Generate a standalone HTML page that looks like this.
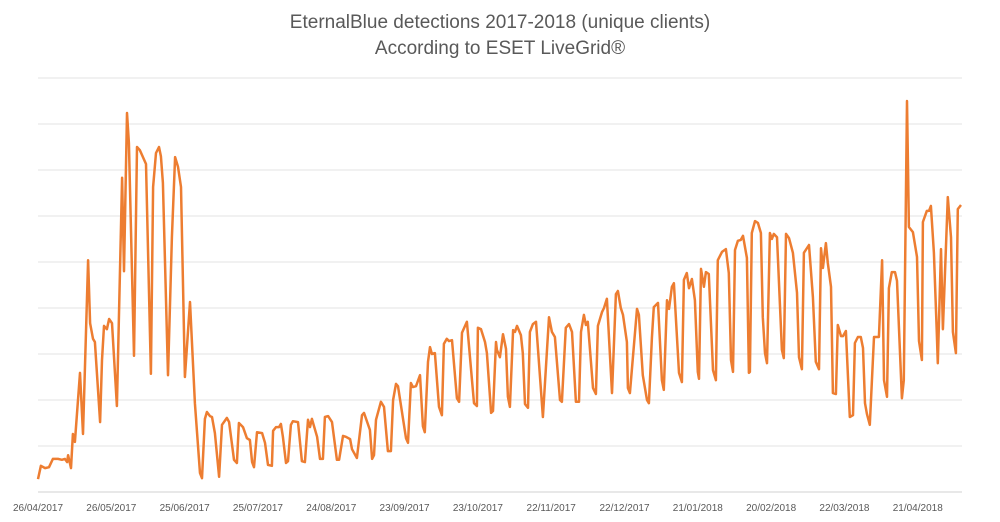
<!DOCTYPE html>
<html><head><meta charset="utf-8"><style>
html,body{margin:0;padding:0;background:#fff;}
svg{display:block;font-family:"Liberation Sans",sans-serif;}
</style></head><body>
<svg id="chart" width="1000" height="522" viewBox="0 0 1000 522">
<text x="500" y="28" text-anchor="middle" font-size="19" fill="#595959">EternalBlue detections 2017-2018 (unique clients)</text>
<text x="500" y="54" text-anchor="middle" font-size="19" fill="#595959">According to ESET LiveGrid®</text>
<g id="grid"></g>
<g id="xticks"></g>
<g id="series"></g>
</svg>
<script>
const tickLabels=["26/04/2017","26/05/2017","25/06/2017","25/07/2017","24/08/2017","23/09/2017","23/10/2017","22/11/2017","22/12/2017","21/01/2018","20/02/2018","22/03/2018","21/04/2018"];
const tickDays=[0,30,60,90,120,150,180,210,240,270,300,330,360];
const gridValues=[0,10,20,30,40,50,60,70,80,90];
const days=[0,1.2,2.9,4.5,6.1,8.2,9.8,11,11.9,12.3,13.5,14.3,15.1,17.2,18.4,20.5,21.3,22.5,23.3,25.4,26.2,27,28.2,29.1,30.3,32.3,34.4,35.2,36.4,37.2,39.3,40.5,41.7,44.2,46.2,47.1,48.3,49.5,50.3,51.1,53.2,54.8,56.1,57.3,58.5,60.1,62.2,64.2,66.3,67.1,68.3,69.1,70.4,71.2,72.4,74.1,75.3,77.3,78.2,80.2,81.4,82.2,83.9,85.5,86.7,87.6,88.4,89.6,91.7,92.9,94.1,95.7,96.2,97.4,98.6,99.4,100.2,101.5,102.3,103.5,104.3,106.4,108,109.2,110.5,111.3,112.1,114.2,115.4,116.6,117.4,118.7,120.3,122.3,123.2,124.8,126,127.7,128.5,130.5,132.6,133.4,135.8,136.7,137.5,138.3,140.3,141.6,143.2,144.4,145.3,146.5,147.3,150.6,151.4,152.6,153.4,154.7,156.3,157.5,158.3,159.6,160.4,161.2,162.4,164.1,165.3,166.1,167.3,168.2,169.4,171.4,172.3,173.5,175.5,178.4,179.6,180,181.3,182.9,183.7,185.4,186.2,187.4,187.8,189,190.3,191.5,192.3,193.1,194.4,195.2,196,197.6,198.4,199.3,200.5,201.3,202.5,203.8,206.6,209.1,210.3,211.5,213.6,214.4,216,217.3,218.5,220.1,221.4,222.2,223.4,224.2,225,227.1,228.3,229.1,230.8,231.6,232.8,234.9,236.5,237.3,238.5,239.4,241,241.4,242.2,245.1,245.9,247.5,249.2,250,251.2,252,253.7,255.3,256.1,257.4,258.2,259.4,260.2,262.3,263.5,264.3,265.5,266.4,267.6,268.8,270,270.5,271.3,272.5,273.3,274.5,276.2,277.4,278.2,279.9,281.5,282.7,283.6,284.4,285.2,286.4,287.6,288.5,290.1,290.9,291.3,292.1,293.4,294.6,295.8,296.6,297.5,298.3,299.5,300.3,301.1,302.4,304.4,305.2,306.1,307.3,308.9,310.6,311.4,312.6,313.4,315.5,317.1,318.3,319.6,320.4,321.2,322.4,323.2,324.5,325.3,326.5,327.3,328.6,329.4,330.6,332.2,333.5,334.3,335.5,336.7,337.6,338.4,339.2,340.4,342.1,344.1,345.4,346.2,347.4,348.2,349.4,350.7,351.5,353.5,354.3,355.6,356.4,358,359.7,360.5,361.7,362.1,363.7,364.6,365.4,366.6,367.8,368.2,369.5,370.3,372.3,373.6,374.4,375.6,376.4,377.7];
const detections=[2.8,5.7,5.2,5.4,7.2,7.2,7,7.2,6.5,8,5.2,12.6,10.9,25.9,12.6,50.4,36.7,33.3,32.6,15.2,28.7,36.1,35.4,37.6,36.7,18.7,68.3,48,82.4,75.9,29.6,75,74.3,71.3,25.7,66.3,73.7,75,73,67.2,25.4,55.4,72.8,70.7,66.3,25,41.3,19.3,4.1,3,15.9,17.4,16.5,16.3,12.8,3.3,14.6,16.1,15.2,7,6.3,15,14.1,11.7,11.3,6.5,5.4,13,12.8,10.7,5.9,5.7,13.3,14.1,14.1,14.8,12,6.3,6.7,14.6,15.4,15.2,6.7,6.5,15.7,14.1,15.9,12,7.2,7.2,16.3,16.5,15.2,7,7,12.2,12,11.5,9.3,7.4,16.7,17.2,13.5,7.2,8,15.7,19.6,18.5,8.9,8.9,20,23.5,23,11.7,10.7,23.7,22.8,23,25.4,14.3,13,28.3,31.5,30,30.2,18.5,16.7,32.2,33.3,32.8,33,20.4,19.6,34.6,37,19.3,18.7,35.7,35.4,32.6,30.2,17.2,17.6,32.6,30.9,29.3,34.3,31.1,20.7,18.5,35.2,34.8,36.1,34.1,30.2,19.1,18.3,34.8,36.5,37,16.3,38,34.8,33.7,20,19.6,35.7,36.5,34.8,19.6,19.6,34.8,38.5,36.3,37,22.6,21.3,36.1,39.1,40,42,21.5,43,43.7,40,38.5,32.6,22.6,21.5,39.8,38.5,25.4,20,19.3,33.5,40.2,41.1,24.3,22.2,41.7,39.8,44.6,45.4,25.9,23.9,46.1,47.6,44.3,46.3,41.7,26.1,24.6,48.5,44.6,47.8,47.4,26.5,24.3,50.4,52.2,52.8,47.6,28.7,26.1,52.6,54.6,54.8,55.7,50.9,25.9,26.1,56.3,58.9,58.5,56.3,38,30.2,28,56.3,55,56.1,55.4,30.9,29.1,56.1,55.2,52,43.3,29.3,26.7,52,53.7,42.4,28.3,26.7,53,48.7,54.1,49.8,44.6,21.5,21.3,36.3,33.9,33.9,35,16.3,16.7,32.4,33.7,33.7,31.3,19.3,17,14.6,33.7,33.7,50.4,24.3,20.7,44.3,47.8,47.8,45.9,20.4,24.3,85,57.6,56.5,51.1,32.8,28.7,58.7,61.1,61.1,62.2,52,34.6,28,52.8,35.4,64.1,55.4,34.8,30.2,61.5,62.4];

const NS="http://www.w3.org/2000/svg";
const X0=38,X1=961,D0=0,D1=377.7,Y0=492,Y1=78,V0=0,V1=90;
function xScale(d){return X0+(d-D0)/(D1-D0)*(X1-X0);}
function yScale(v){return Y0-(v-V0)/(V1-V0)*(Y0-Y1);}
const grid=document.getElementById('grid');
gridValues.forEach(v=>{
  const l=document.createElementNS(NS,'line');
  
  
  l.setAttribute('x1',38);l.setAttribute('x2',962);
  l.setAttribute('y1',yScale(v));l.setAttribute('y2',yScale(v));
  l.setAttribute('stroke',v===0?'#d0d0d0':'#e3e3e3');l.setAttribute('stroke-width',1);
  grid.appendChild(l);
});
const xt=document.getElementById('xticks');
tickLabels.forEach((t,i)=>{
  const tx=document.createElementNS(NS,'text');
  
  
  tx.setAttribute('x',xScale(tickDays[i]));tx.setAttribute('y',511);
  tx.setAttribute('text-anchor','middle');tx.setAttribute('font-size','10');tx.setAttribute('fill','#595959');
  tx.textContent=t;xt.appendChild(tx);
});
const pts=days.map((d,i)=>xScale(d).toFixed(1)+','+yScale(detections[i]).toFixed(1)).join(' ');
const pl=document.createElementNS(NS,'polyline');


pl.setAttribute('points',pts);pl.setAttribute('fill','none');
pl.setAttribute('stroke','#ED7D31');pl.setAttribute('stroke-width','2.5');pl.setAttribute('stroke-linejoin','round');
document.getElementById('series').appendChild(pl);
</script>
</body></html>
